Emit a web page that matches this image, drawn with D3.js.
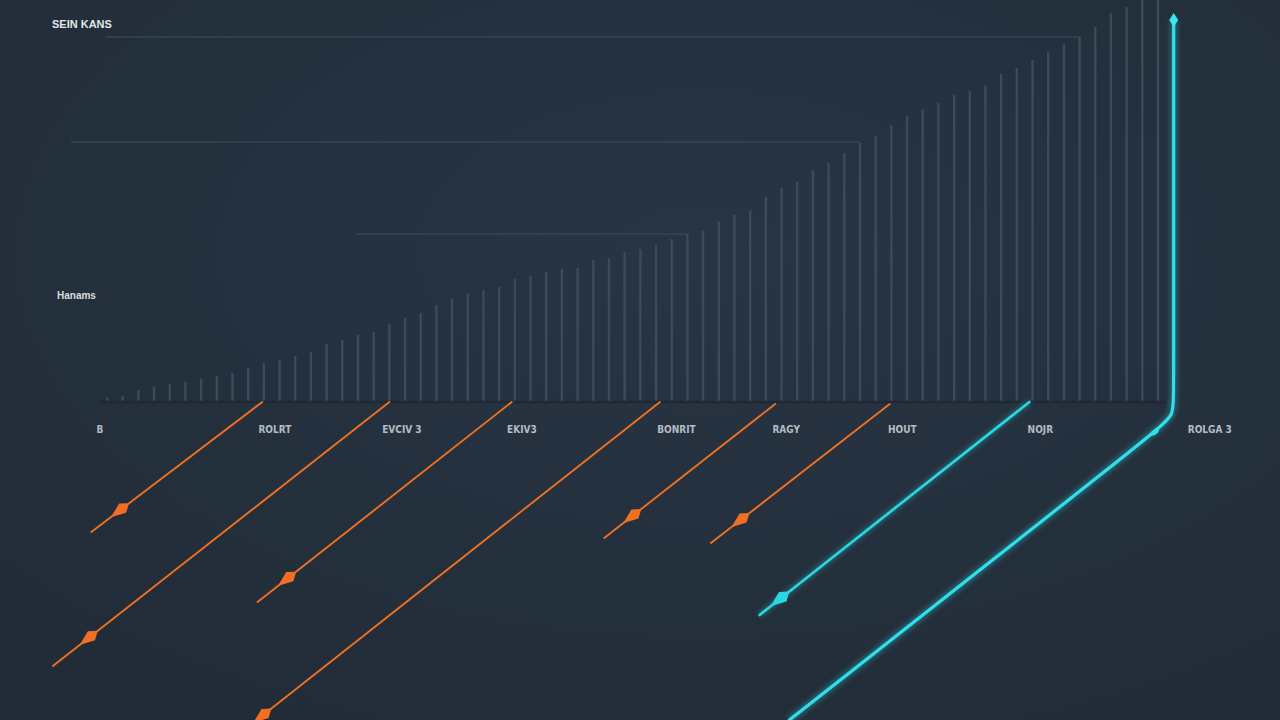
<!DOCTYPE html>
<html><head><meta charset="utf-8">
<script src="https://cdn.jsdelivr.net/npm/d3@7"></script>
<style>html,body{margin:0;padding:0;background:#25303d;overflow:hidden}</style>
</head><body><svg id="c" width="1280" height="720"></svg>
<script>
// ---- data ----
const barValues = [4,5,11,14,17,19,22,25,28,33,38,41,45,49,57,61,66,69,77,83,88,96,103,107,111,114,122,125,129,132,133,141,143,149,152,156,162,167,170,179,186,191,204,213,219,231,238,248,258,265,276,285,292,298,306,310,316,327,333,341,349,357,364,374,388,394,401,401];
const categories = ["B","ROLRT","EVCIV 3","EKIV3","BONRIT","RAGY","HOUT","NOJR","ROLGA 3"];
const categoryPos = [-0.45,10.7,18.8,26.45,36.3,43.3,50.7,59.5,70.3];
const gridValues = [364,259,167];
const gridStarts = [-0.1,-2.3,15.9];
const arrowSeries = ["A","A","A","A","A","A","B"];
const arrowStartX = [9.9,18.0,25.8,35.25,42.6,49.9,58.8];
const arrowStartY = [-1,-1,-1,-1,-3,-3,-1];
const arrowEndX = [-1.0,-3.45,9.6,9.55,31.7,38.5,41.6];
const arrowEndY = [-131,-265,-201,-319,-137,-142,-214];
const arrowMarkT = [0.806,0.88,0.866,0.975,0.81,0.81,0.907];
const trendX = [68,68,68,68,68,67.0,43.5,43.5,43.5];
const trendY = [381,381,381,4,-14,-29,-319,-319,-319];
const titleText = "SEIN KANS";
const yLabelText = "Hanams";

// ---- scales ----
const svg = d3.select("#c");
const x = d3.scaleLinear().domain([0, barValues.length-1]).range([107, 1158]);
const y = d3.scaleLinear().domain([0, 401]).range([401, 0]);
const color = d3.scaleOrdinal().domain(["A","B"]).range(["#f06f22","#2ad8e4"]);

const defs = svg.append("defs");
const bg = defs.append("radialGradient").attr("id","bg").attr("cx","55%").attr("cy","35%").attr("r","75%");
bg.append("stop").attr("offset","0%").attr("stop-color","#283544");
bg.append("stop").attr("offset","100%").attr("stop-color","#222c38");
const glow = defs.append("filter").attr("id","glow").attr("x","-50%").attr("y","-50%").attr("width","200%").attr("height","200%");
glow.append("feGaussianBlur").attr("stdDeviation",2.5);

svg.append("rect").attr("width",1280).attr("height",720).attr("fill","url(#bg)");

// gridlines (end where bars rise above them)
gridValues.forEach((g,i)=>{
  const endIdx = barValues.findIndex(v=>v>g);
  svg.append("line")
    .attr("x1", x(gridStarts[i])).attr("x2", x(endIdx-1))
    .attr("y1", y(g)).attr("y2", y(g))
    .attr("stroke","#364553").attr("stroke-width",1.6);
});

// bars
svg.append("g").selectAll("line").data(barValues).join("line")
  .attr("x1",(d,i)=>x(i)).attr("x2",(d,i)=>x(i))
  .attr("y1",y(0)).attr("y2",d=>y(d))
  .attr("stroke","#3b4b59").attr("stroke-width",2.4);

// baseline
svg.append("line").attr("x1",x(-0.5)).attr("x2",x(67.5)).attr("y1",y(0)+1).attr("y2",y(0)+1)
  .attr("stroke","#1f2833").attr("stroke-width",2.5);

// category labels
svg.append("g").selectAll("text").data(categories).join("text")
  .attr("x",(d,i)=>x(categoryPos[i])).attr("y",y(0)+32)
  .attr("text-anchor","middle")
  .attr("font-family","'Liberation Sans Narrow','DejaVu Sans Condensed','Liberation Sans',sans-serif")
  .attr("font-weight","bold")
  .attr("font-size",10).attr("fill","#b4bcc4")
  .text(d=>d);

svg.append("text").attr("x",52).attr("y",28).text(titleText)
  .attr("font-family","'Liberation Sans Narrow','Liberation Sans',sans-serif").attr("font-weight","bold")
  .attr("font-size",11).attr("fill","#e2e6ea");
svg.append("text").attr("x",57).attr("y",299).text(yLabelText)
  .attr("font-family","'Liberation Sans Narrow','Liberation Sans',sans-serif").attr("font-weight","bold")
  .attr("font-size",10).attr("fill","#d8dde2");

// arrows
function marker(g, px, py, ang, col, s){
  g.append("path")
    .attr("d",`M${-5*s},0 L${2*s},${-5*s} L${15*s},0 L${2*s},${5*s} Z`)
    .attr("transform",`translate(${px},${py}) rotate(${ang*180/Math.PI})`)
    .attr("fill",col);
}
const ag = svg.append("g");
arrowSeries.forEach((s,i)=>{
  const x1=x(arrowStartX[i]), y1=y(arrowStartY[i]), x2=x(arrowEndX[i]), y2=y(arrowEndY[i]);
  const col=color(s);
  const w = s==="B"?2.6:1.9;
  if(s==="B") ag.append("line").attr("x1",x1).attr("y1",y1).attr("x2",x2).attr("y2",y2)
      .attr("stroke",col).attr("stroke-width",5).attr("opacity",0.35).attr("filter","url(#glow)");
  ag.append("line").attr("x1",x1).attr("y1",y1).attr("x2",x2).attr("y2",y2)
    .attr("stroke",col).attr("stroke-width",w).attr("stroke-linecap","round");
  const t=arrowMarkT[i];
  marker(ag, x1+(x2-x1)*t, y1+(y2-y1)*t, Math.atan2(y2-y1,x2-x1), col, s==="B"?1.2:1.15);
});

// trend line
const pts = trendX.map((d,i)=>[x(d), y(trendY[i])]);
const line = d3.line().curve(d3.curveBasis);
svg.append("path").attr("d",line(pts)).attr("fill","none").attr("stroke","#2ad8e4")
  .attr("stroke-width",7).attr("opacity",0.35).attr("filter","url(#glow)");
svg.append("path").attr("d",line(pts)).attr("fill","none").attr("stroke","#2fe0ec")
  .attr("stroke-width",3.2).attr("stroke-linecap","round");
// diamond at top
svg.append("path").attr("d","M0,-7 L4.5,0 L0,7 L-4.5,0 Z")
  .attr("transform",`translate(${x(trendX[0])},${y(trendY[0])})`).attr("fill","#38e6f0");
// small bump marker on bend
const bx = x(66.8), by = y(-31);
svg.append("ellipse").attr("cx",bx).attr("cy",by).attr("rx",4.5).attr("ry",2.6)
  .attr("transform",`rotate(-38,${bx},${by})`).attr("fill","#2fe0ec");
</script></body></html>
